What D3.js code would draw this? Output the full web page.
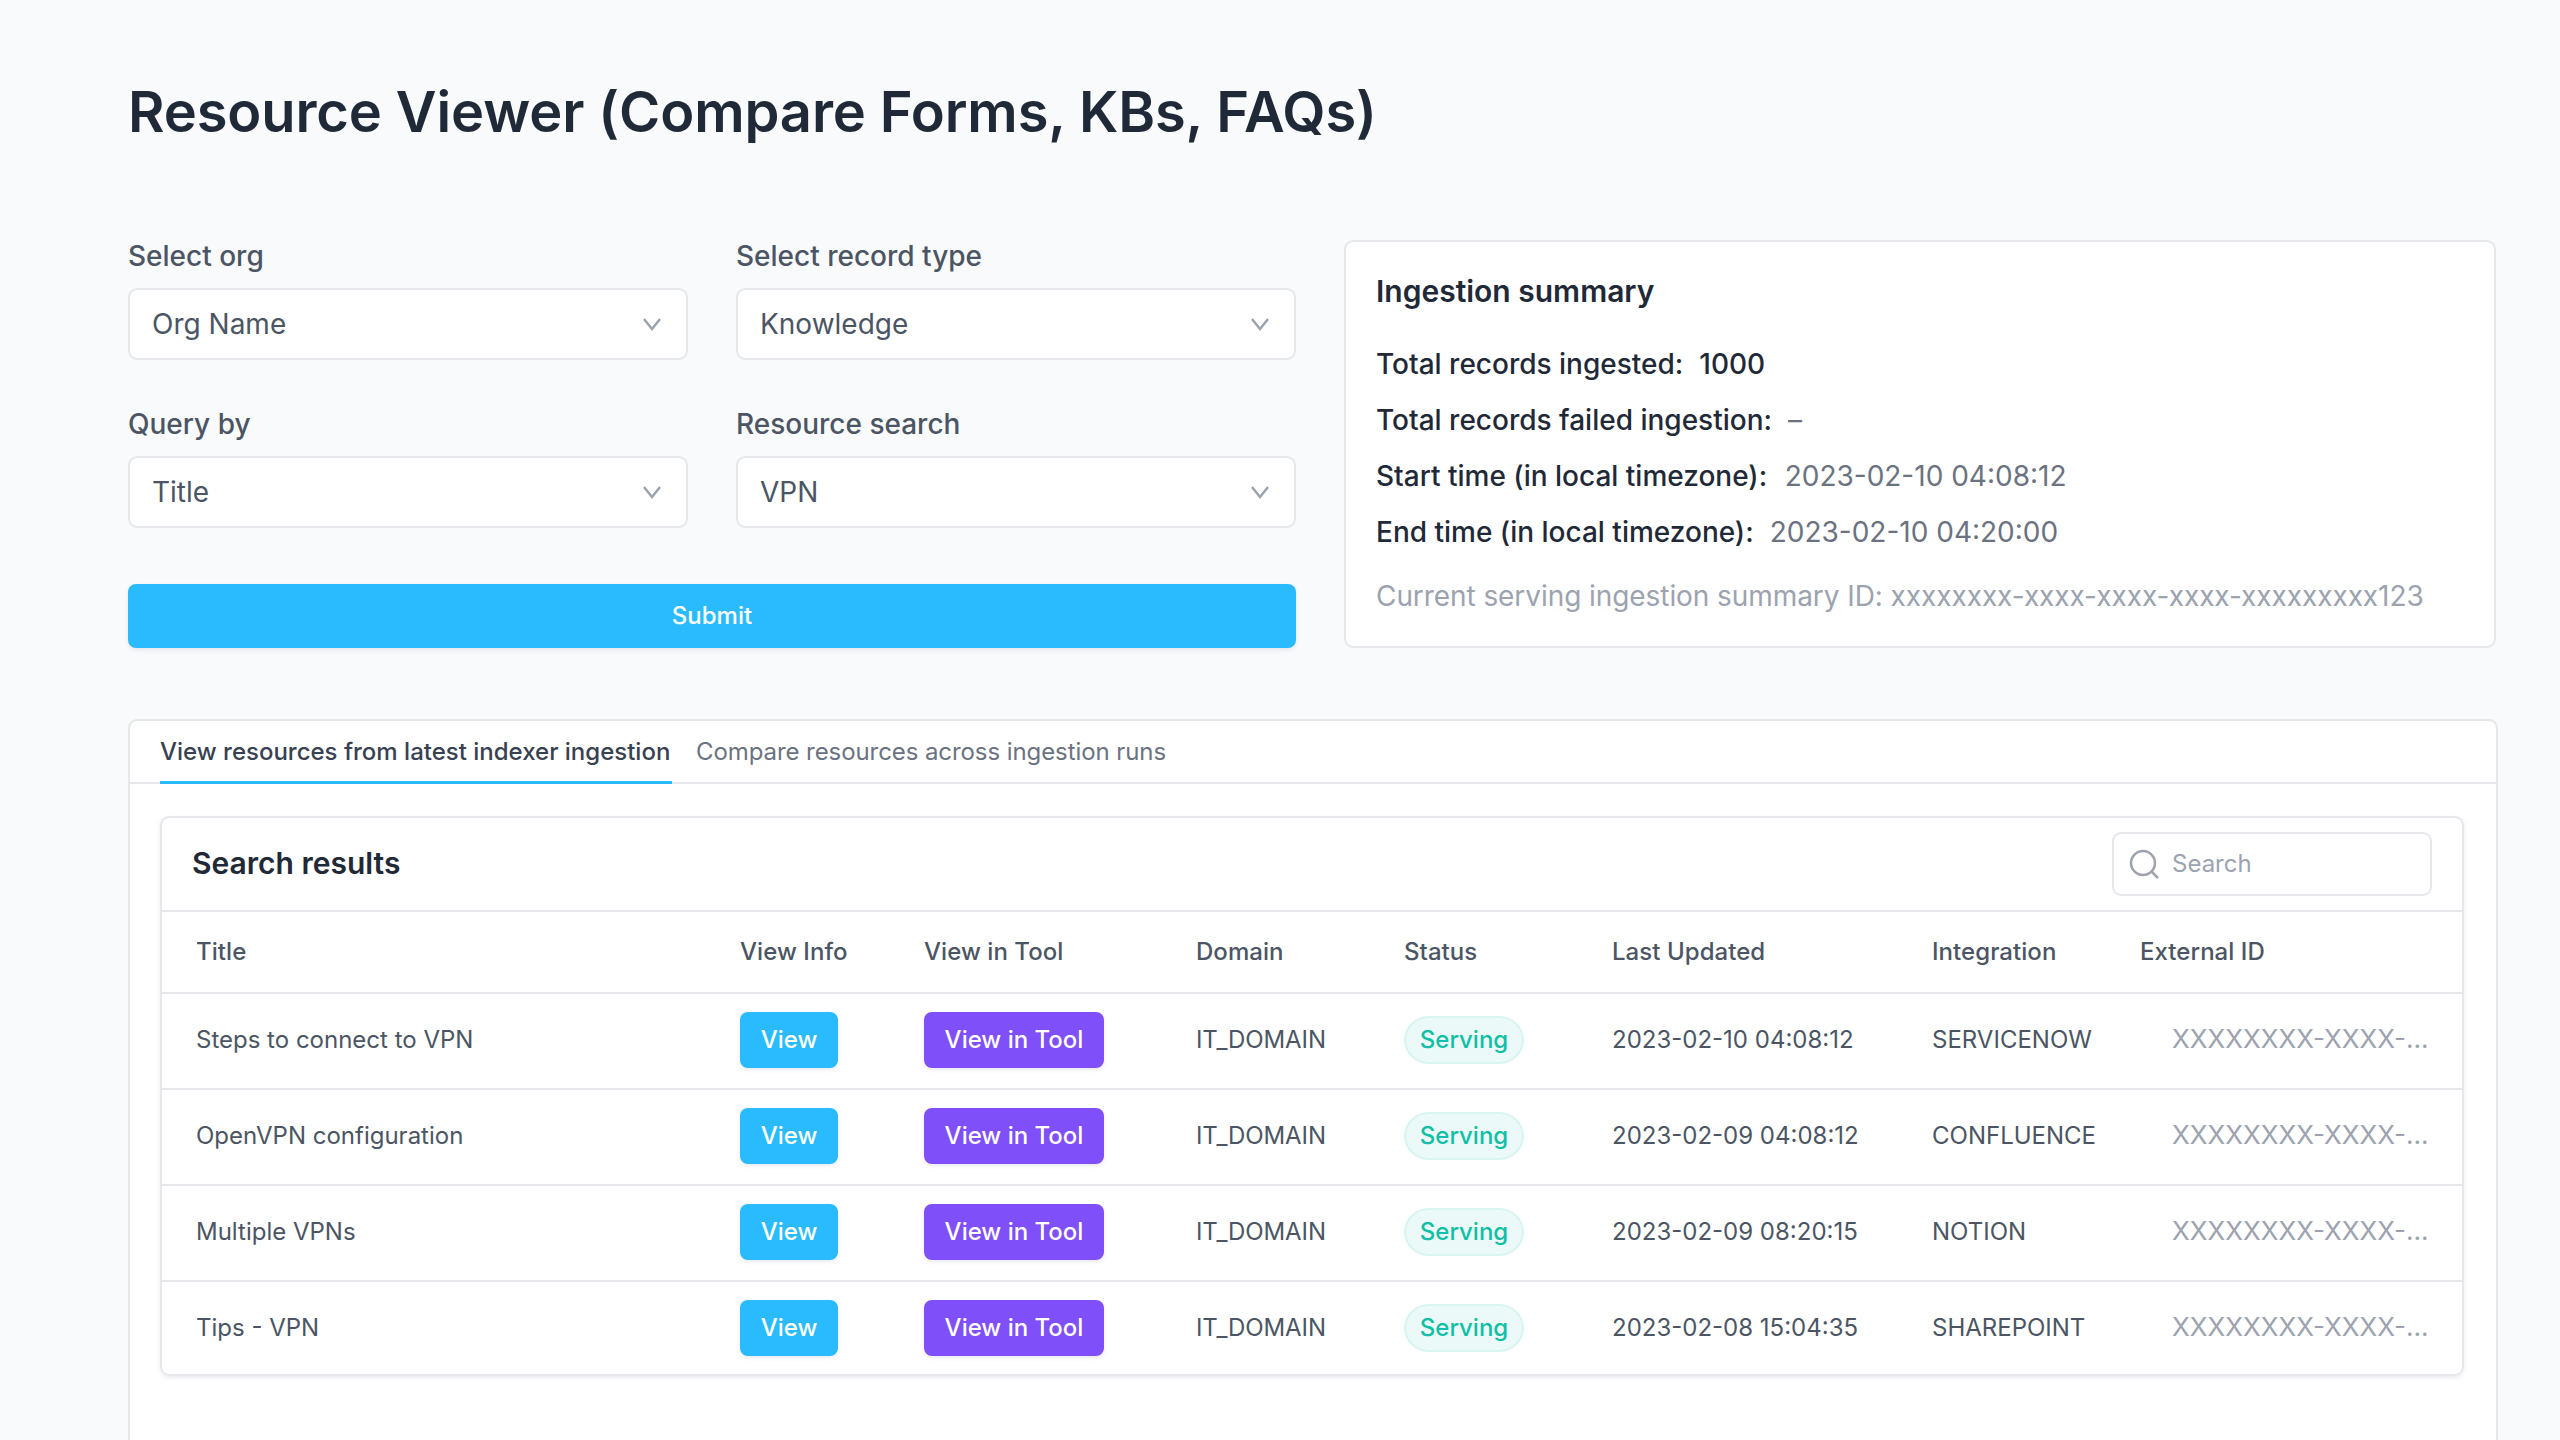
<!DOCTYPE html>
<html><head><meta charset="utf-8">
<script src="https://cdn.jsdelivr.net/npm/d3@7/dist/d3.min.js"></script>
<style>
html,body{margin:0;padding:0;background:#f9fafb;overflow:hidden}
svg{display:block}
text{font-family:Inter,"Noto Sans",sans-serif;font-feature-settings:"kern";}
</style></head><body>
<script>
// ---- data ----
const pageTitle = "Resource Viewer (Compare Forms, KBs, FAQs)";
const fieldLabels = ["Select org","Select record type","Query by","Resource search"];
const fieldValues = ["Org Name","Knowledge","Title","VPN"];
const summaryTitle = "Ingestion summary";
const summaryLabels = ["Total records ingested:","Total records failed ingestion:","Start time (in local timezone):","End time (in local timezone):"];
const summaryValues = ["1000","–","2023-02-10 04:08:12","2023-02-10 04:20:00"];
const summaryId = "Current serving ingestion summary ID: xxxxxxxx-xxxx-xxxx-xxxx-xxxxxxxxx123";
const tabs = ["View resources from latest indexer ingestion","Compare resources across ingestion runs"];
const columns = ["Title","View Info","View in Tool","Domain","Status","Last Updated","Integration","External ID"];
const titles = ["Steps to connect to VPN","OpenVPN configuration","Multiple VPNs","Tips - VPN"];
const domains = ["IT_DOMAIN","IT_DOMAIN","IT_DOMAIN","IT_DOMAIN"];
const statuses = ["Serving","Serving","Serving","Serving"];
const updated = ["2023-02-10 04:08:12","2023-02-09 04:08:12","2023-02-09 08:20:15","2023-02-08 15:04:35"];
const integrations = ["SERVICENOW","CONFLUENCE","NOTION","SHAREPOINT"];
const externalIds = ["XXXXXXXX-XXXX-...","XXXXXXXX-XXXX-...","XXXXXXXX-XXXX-...","XXXXXXXX-XXXX-..."];

// ---- layout ----
const W=2560,H=1440, BORDER="#e5e7eb", BLUE="#29bbff", PURPLE="#7f50fa";
const svg=d3.select("body").append("svg").attr("width",W).attr("height",H).attr("viewBox",`0 0 ${W} ${H}`);
const defs=svg.append("defs");
const f=defs.append("filter").attr("id","sh").attr("x","-10%").attr("y","-20%").attr("width","120%").attr("height","150%");
f.append("feDropShadow").attr("dx",0).attr("dy",2).attr("stdDeviation",2).attr("flood-color","#1f2937").attr("flood-opacity",0.08);

function box(x0,y0,x1,y1,o={}){
  const s=o.sw===undefined?2:o.sw;
  const r=svg.append("rect").attr("x",x0+s/2).attr("y",y0+s/2).attr("width",x1-x0-s).attr("height",y1-y0-s)
    .attr("rx",o.rx||8).attr("fill",o.fill||"#fff").attr("stroke",o.stroke||BORDER).attr("stroke-width",s);
  if(o.shadow) r.attr("filter","url(#sh)");
  return r;
}
function txt(x,y,s,size,color,weight,anchor){
  return svg.append("text").attr("x",x).attr("y",y).attr("font-size",size).attr("fill",color)
    .attr("font-weight",weight||400).attr("text-anchor",anchor||"start").text(s);
}
svg.append("rect").attr("width",W).attr("height",H).attr("fill","#f9fafb");

txt(128,132,pageTitle,56,"#1f2937",600).attr("letter-spacing",-0.12);

// form fields
const fx=d3.scaleBand().domain([0,1]).range([128,1296]).paddingInner(48/608);
const fy=d3.scaleBand().domain([0,1]).range([288,528]).paddingInner(96/168);
fieldLabels.forEach((lab,i)=>{
  const cx=i%2, ry=i<2?0:1, x=fx(cx), y=fy(ry), w=fx.bandwidth(), h=fy.bandwidth();
  txt(x,y-22,lab,28,"#4b5563",500);
  box(x,y,x+w,y+h,{stroke:BORDER});
  txt(x+24,y+46,fieldValues[i],28,"#4b5563",400);
  const c=x+w-36, m=y+h/2;
  svg.append("path").attr("d",d3.line()([[c-8,m-5],[c,m+5],[c+8,m-5]])).attr("fill","none").attr("stroke","#9ca3af").attr("stroke-width",2.5);
});
box(128,584,1296,648,{fill:BLUE,stroke:BLUE,shadow:true,sw:0});
txt(712,624,"Submit",24,"#fff",500,"middle");

// summary card
box(1344,240,2496,648);
txt(1376,302,summaryTitle,30,"#1f2937",600);
const sy=d3.scalePoint().domain(d3.range(summaryLabels.length)).range([374,542]);
summaryLabels.forEach((l,i)=>{
  const t=txt(1376,sy(i),l,28,"#1f2937",500);
  t.append("tspan").attr("dx",i===2?17.5:16).attr("fill",i===0?"#1f2937":"#6b7280").attr("font-weight",i===0?500:400).text(summaryValues[i]);
});
txt(1376,606,summaryId,28,"#9ca3af",400).attr("letter-spacing",-0.07);

// tabs card
box(128,719,2498,1500);
svg.append("line").attr("x1",128).attr("x2",2498).attr("y1",783).attr("y2",783).attr("stroke",BORDER).attr("stroke-width",2);
txt(160,760,tabs[0],24,"#374151",500);
txt(696,760,tabs[1],24,"#6b7280",400).attr("letter-spacing",-0.08);
svg.append("rect").attr("x",160).attr("y",781).attr("width",512).attr("height",3).attr("fill",BLUE);

// results card
box(160,816,2464,1376,{shadow:true});
txt(192,874,"Search results",30,"#1f2937",600);
box(2112,832,2432,896,{});
svg.append("circle").attr("cx",2143).attr("cy",863).attr("r",12).attr("fill","none").attr("stroke","#9ca3af").attr("stroke-width",2.5);
svg.append("line").attr("x1",2152).attr("y1",872).attr("x2",2158).attr("y2",878).attr("stroke","#9ca3af").attr("stroke-width",2.5);
txt(2172,872,"Search",24,"#9ca3af",400);

// table
const colX=d3.scaleOrdinal().domain(columns).range([196,740,924,1196,1404,1612,1932,2140]);
columns.forEach(c=>txt(colX(c),960,c,24,"#4b5563",500).attr("letter-spacing",0.05));
const rowY=d3.scaleBand().domain(titles).range([993,1377]);
const lines=[911,993].concat(titles.slice(0,3).map(t=>rowY(t)+rowY.bandwidth()));
lines.forEach(y=>svg.append("line").attr("x1",161).attr("x2",2463).attr("y1",y).attr("y2",y).attr("stroke",BORDER).attr("stroke-width",2));

titles.forEach((t,i)=>{
  const my=rowY(t)+rowY.bandwidth()/2-1, base=my+8;
  txt(colX("Title"),base,t,24,"#4b5563",400);
  const vx=colX("View Info");
  box(vx,my-28,vx+98,my+28,{fill:BLUE,sw:0,shadow:true});
  txt(vx+49,base,"View",24,"#fff",500,"middle");
  const tx=colX("View in Tool");
  box(tx,my-28,tx+180,my+28,{fill:PURPLE,sw:0,shadow:true});
  txt(tx+90,base,"View in Tool",24,"#fff",500,"middle");
  txt(colX("Domain"),base,domains[i],24,"#4b5563",400).attr("letter-spacing",-0.1);
  const sx=colX("Status");
  box(sx,my-24,sx+120,my+24,{fill:"#ebfaf8",stroke:"#d9f5f0",rx:24});
  txt(sx+60,base,statuses[i],24,"#10bfa6",500,"middle");
  txt(colX("Last Updated"),base,updated[i],24,"#4b5563",400);
  txt(colX("Integration"),base,integrations[i],24,"#4b5563",400);
  txt(colX("External ID")+32,base,externalIds[i],26,"#9ca3af",400);
});
</script></body></html>
